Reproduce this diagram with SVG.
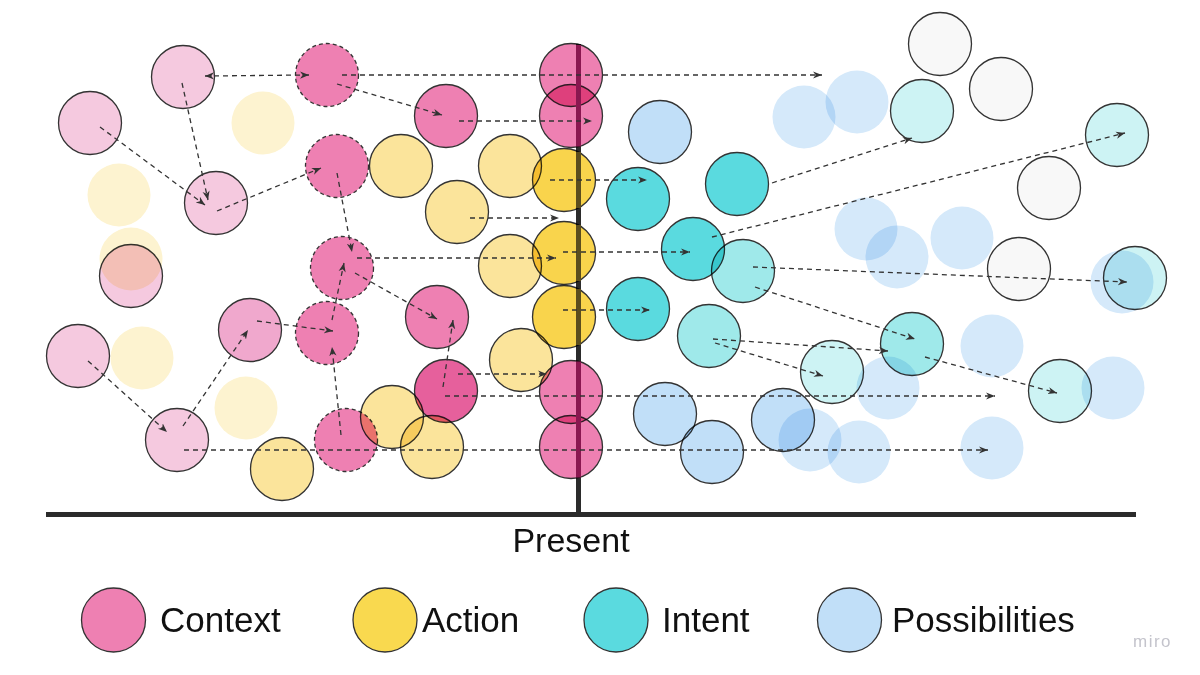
<svg xmlns="http://www.w3.org/2000/svg" width="1200" height="675" viewBox="0 0 1200 675">
<style>
.c{mix-blend-mode:multiply;stroke:#333;stroke-width:1.3}
.nf{stroke:none}
.d{stroke-dasharray:4 3}
.pkL{fill:#f5c9df}.pkM{fill:#f0a8cd}.pk{fill:#ee80b2}.pkD{fill:#e6609c}
.yl{fill:#fbe49b}.ylS{fill:#f9d44c}.ylF{fill:#fdf3d0}
.cy{fill:#5adadf}.cyM{fill:#9fe9ea}.cyL{fill:#cdf3f4}
.gr{fill:#f8f8f8}.bl{fill:#c1dff8}.blF{fill:#d5e9fa}
.cn line{stroke:#333;stroke-width:1.3;stroke-dasharray:5 4;fill:none;marker-end:url(#ah)}
.t{font-family:"Liberation Sans",Arial,sans-serif;fill:#111}
.vp{stroke:#8a1750;stroke-width:5}
.vy{stroke:#5b4d1e;stroke-width:5}
</style>
<defs>
<marker id="ah" viewBox="0 0 10 10" refX="10" refY="5" markerWidth="9" markerHeight="9" markerUnits="userSpaceOnUse" orient="auto-start-reverse">
<path d="M0,1 L10,5 L0,9 L3,5 z" fill="#333"/>
</marker>
</defs>
<rect width="1200" height="675" fill="#fff"/>
<g id="axes">
<line x1="46" y1="514.5" x2="1136" y2="514.5" stroke="#2b2b2b" stroke-width="5"/>
<line x1="578.5" y1="44" x2="578.5" y2="514" stroke="#2b2b2b" stroke-width="5"/>
</g>
<!-- faded -->
<g id="f1"><circle class="c nf ylF" cx="263" cy="123" r="31.5"/></g>
<g id="f2"><circle class="c nf ylF" cx="119" cy="195" r="31.5"/></g>
<g id="f3"><circle class="c nf ylF" cx="131" cy="259" r="31.5"/></g>
<g id="f4"><circle class="c nf ylF" cx="142" cy="358" r="31.5"/></g>
<g id="f5"><circle class="c nf ylF" cx="246" cy="408" r="31.5"/></g>
<g id="q1"><circle class="c nf blF" cx="804" cy="117" r="31.5"/></g>
<g id="q2"><circle class="c nf blF" cx="857" cy="102" r="31.5"/></g>
<g id="q3"><circle class="c nf blF" cx="866" cy="229" r="31.5"/></g>
<g id="q4"><circle class="c nf blF" cx="897" cy="257" r="31.5"/></g>
<g id="q5"><circle class="c nf blF" cx="962" cy="238" r="31.5"/></g>
<g id="q6"><circle class="c nf blF" cx="992" cy="346" r="31.5"/></g>
<g id="q7"><circle class="c nf blF" cx="888" cy="388" r="31.5"/></g>
<g id="q8"><circle class="c nf blF" cx="1113" cy="388" r="31.5"/></g>
<g id="q9"><circle class="c nf blF" cx="992" cy="448" r="31.5"/></g>
<g id="q10"><circle class="c nf blF" cx="810" cy="440" r="31.5"/></g>
<g id="q11"><circle class="c nf blF" cx="859" cy="452" r="31.5"/></g>
<g id="q12"><circle class="c nf blF" cx="1122" cy="282" r="31.5"/></g>
<!-- context past -->
<g id="p1"><circle class="c pkL" cx="183" cy="77" r="31.5"/></g>
<g id="p2"><circle class="c pkL" cx="90" cy="123" r="31.5"/></g>
<g id="p3"><circle class="c pkL" cx="216" cy="203" r="31.5"/></g>
<g id="p4"><circle class="c pkL" cx="131" cy="276" r="31.5"/></g>
<g id="p5"><circle class="c pkL" cx="78" cy="356" r="31.5"/></g>
<g id="p6"><circle class="c pkL" cx="177" cy="440" r="31.5"/></g>
<g id="p7"><circle class="c pkM" cx="250" cy="330" r="31.5"/></g>
<g id="d1"><circle class="c pk d" cx="327" cy="75" r="31.5"/></g>
<g id="d2"><circle class="c pk d" cx="337" cy="166" r="31.5"/></g>
<g id="d3"><circle class="c pk d" cx="342" cy="268" r="31.5"/></g>
<g id="d4"><circle class="c pk d" cx="327" cy="333" r="31.5"/></g>
<g id="d5"><circle class="c pk d" cx="346" cy="440" r="31.5"/></g>
<g id="s1"><circle class="c pk" cx="446" cy="116" r="31.5"/></g>
<g id="s2"><circle class="c pk" cx="437" cy="317" r="31.5"/></g>
<g id="s3"><circle class="c pkD" cx="446" cy="391" r="31.5"/></g>
<g id="k1"><circle class="c pk" cx="571" cy="75" r="31.5"/></g>
<g id="k2"><circle class="c pk" cx="571" cy="116" r="31.5"/></g>
<g id="k3"><circle class="c pk" cx="571" cy="392" r="31.5"/></g>
<g id="k4"><circle class="c pk" cx="571" cy="447" r="31.5"/></g>
<!-- action -->
<g id="y1"><circle class="c yl" cx="401" cy="166" r="31.5"/></g>
<g id="y2"><circle class="c yl" cx="510" cy="166" r="31.5"/></g>
<g id="y3"><circle class="c yl" cx="457" cy="212" r="31.5"/></g>
<g id="y4"><circle class="c yl" cx="510" cy="266" r="31.5"/></g>
<g id="y5"><circle class="c yl" cx="521" cy="360" r="31.5"/></g>
<g id="y6"><circle class="c yl" cx="392" cy="417" r="31.5"/></g>
<g id="y7"><circle class="c yl" cx="432" cy="447" r="31.5"/></g>
<g id="y8"><circle class="c yl" cx="282" cy="469" r="31.5"/></g>
<g id="y9"><circle class="c ylS" cx="564" cy="180" r="31.5"/></g>
<g id="y10"><circle class="c ylS" cx="564" cy="253" r="31.5"/></g>
<g id="y11"><circle class="c ylS" cx="564" cy="317" r="31.5"/></g>
<g id="present-line-tint">
<line class="vp" x1="578.5" y1="45" x2="578.5" y2="146.5"/>
<line class="vy" x1="578.5" y1="152" x2="578.5" y2="208"/>
<line class="vy" x1="578.5" y1="225" x2="578.5" y2="281"/>
<line class="vy" x1="578.5" y1="289" x2="578.5" y2="345"/>
<line class="vp" x1="578.5" y1="361.5" x2="578.5" y2="477.5"/>
</g>
<!-- intent -->
<g id="c1"><circle class="c cy" cx="638" cy="199" r="31.5"/></g>
<g id="c2"><circle class="c cy" cx="737" cy="184" r="31.5"/></g>
<g id="c3"><circle class="c cy" cx="693" cy="249" r="31.5"/></g>
<g id="c4"><circle class="c cy" cx="638" cy="309" r="31.5"/></g>
<g id="c5"><circle class="c cyM" cx="743" cy="271" r="31.5"/></g>
<g id="c6"><circle class="c cyM" cx="709" cy="336" r="31.5"/></g>
<g id="c7"><circle class="c cyM" cx="912" cy="344" r="31.5"/></g>
<g id="c8"><circle class="c cyL" cx="922" cy="111" r="31.5"/></g>
<g id="c9"><circle class="c cyL" cx="1117" cy="135" r="31.5"/></g>
<g id="c10"><circle class="c cyL" cx="832" cy="372" r="31.5"/></g>
<g id="c11"><circle class="c cyL" cx="1060" cy="391" r="31.5"/></g>
<g id="c12"><circle class="c cyL" cx="1135" cy="278" r="31.5"/></g>
<g id="g1"><circle class="c gr" cx="940" cy="44" r="31.5"/></g>
<g id="g2"><circle class="c gr" cx="1001" cy="89" r="31.5"/></g>
<g id="g3"><circle class="c gr" cx="1049" cy="188" r="31.5"/></g>
<g id="g4"><circle class="c gr" cx="1019" cy="269" r="31.5"/></g>
<!-- possibilities -->
<g id="b1"><circle class="c bl" cx="660" cy="132" r="31.5"/></g>
<g id="b2"><circle class="c bl" cx="665" cy="414" r="31.5"/></g>
<g id="b3"><circle class="c bl" cx="712" cy="452" r="31.5"/></g>
<g id="b4"><circle class="c bl" cx="783" cy="420" r="31.5"/></g>
<g id="connectors" class="cn">
<line x1="205" y1="76" x2="309" y2="75" style="marker-start:url(#ah)"/>
<line x1="342" y1="75" x2="822" y2="75"/>
<line x1="337" y1="84" x2="442" y2="115"/>
<line x1="459" y1="121" x2="592" y2="121"/>
<line x1="182" y1="83" x2="208" y2="200"/>
<line x1="100" y1="127" x2="205" y2="205"/>
<line x1="217" y1="211" x2="321" y2="168"/>
<line x1="337" y1="173" x2="352" y2="252"/>
<line x1="357" y1="258" x2="556" y2="258"/>
<line x1="470" y1="218" x2="559" y2="218"/>
<line x1="550" y1="180" x2="647" y2="180"/>
<line x1="563" y1="252" x2="690" y2="252"/>
<line x1="563" y1="310" x2="650" y2="310"/>
<line x1="772" y1="183" x2="912" y2="138"/>
<line x1="712" y1="237" x2="1125" y2="133"/>
<line x1="753" y1="267" x2="1127" y2="282"/>
<line x1="755" y1="287" x2="915" y2="339"/>
<line x1="713" y1="339" x2="888" y2="351"/>
<line x1="715" y1="343" x2="823" y2="376"/>
<line x1="925" y1="357" x2="1057" y2="393"/>
<line x1="445" y1="396" x2="995" y2="396"/>
<line x1="458" y1="374" x2="547" y2="374"/>
<line x1="355" y1="273" x2="437" y2="319"/>
<line x1="443" y1="387" x2="453" y2="320"/>
<line x1="332" y1="320" x2="344" y2="263"/>
<line x1="341" y1="435" x2="332" y2="347"/>
<line x1="257" y1="321" x2="333" y2="331"/>
<line x1="88" y1="361" x2="167" y2="432"/>
<line x1="183" y1="426" x2="248" y2="330"/>
<line x1="184" y1="450" x2="988" y2="450"/>
</g>
<g id="present-label"><text class="t" x="571" y="552" font-size="34" text-anchor="middle">Present</text></g>
<g id="legend-context"><circle cx="113.5" cy="620" r="32" fill="#ee80b2" stroke="#333" stroke-width="1.3"/><text class="t" x="160" y="632" font-size="35">Context</text></g>
<g id="legend-action"><circle cx="385" cy="620" r="32" fill="#f9d94f" stroke="#333" stroke-width="1.3"/><text class="t" x="422" y="632" font-size="35">Action</text></g>
<g id="legend-intent"><circle cx="616" cy="620" r="32" fill="#5adadf" stroke="#333" stroke-width="1.3"/><text class="t" x="662" y="632" font-size="35">Intent</text></g>
<g id="legend-possibilities"><circle cx="849.5" cy="620" r="32" fill="#c1dff8" stroke="#333" stroke-width="1.3"/><text class="t" x="892" y="632" font-size="35">Possibilities</text></g>
<g id="watermark"><text x="1133" y="647" font-family="'Liberation Sans',Arial,sans-serif" font-size="17" letter-spacing="1.5" fill="#c4c4cc">miro</text></g>
</svg>
